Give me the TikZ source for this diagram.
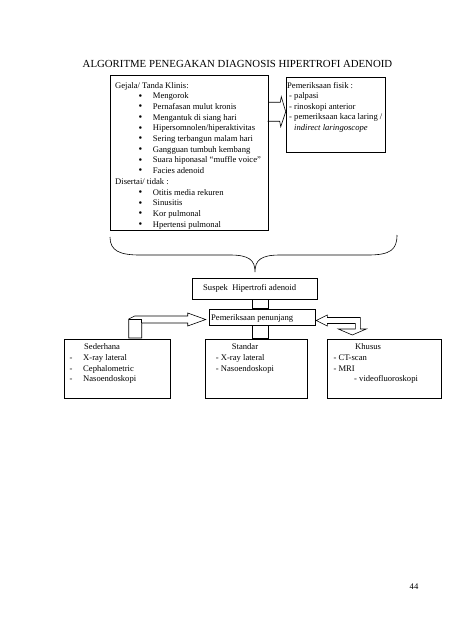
\documentclass[tikz,border=0pt]{standalone}
\usepackage{fontspec}
\setmainfont{Liberation Serif}
\usetikzlibrary{calc}
\tikzset{
	kotak/.style={draw, inner sep=0pt, line width=0.6pt},
	blok/.style={draw, line width=0.6pt, line join=miter},
	teks/.style={anchor=base west, inner sep=0pt, font=\fontsize{8.6}{10}\selectfont},
	titik/.style={anchor=base west, inner sep=0pt, font=\fontsize{10.5}{10}\selectfont},
}

\begin{document}
\begin{tikzpicture}[x=1pt,y=1pt,yscale=-1,xscale=1]
		\useasboundingbox (0,0) rectangle (474,632);
		% judul
		\node [anchor=base, inner sep=0pt, font=\fontsize{10.8}{12}\selectfont] (judul) at (237.5,67.8) {ALGORITME PENEGAKAN DIAGNOSIS HIPERTROFI ADENOID};

		% kotak-kotak
		\node [kotak, minimum width=158, minimum height=155] (klinis) at (189,152.5) {};
		\node [kotak, minimum width=99, minimum height=75] (fisik) at (335.5,114.5) {};
		\node [kotak, minimum width=125, minimum height=21] (suspek) at (254.5,288.5) {};
		\node [kotak, minimum width=106, minimum height=16] (penunjang) at (262,317) {};
		\node [kotak, minimum width=106, minimum height=59] (sederhana) at (117,368.5) {};
		\node [kotak, minimum width=102, minimum height=59] (standar) at (256,368.5) {};
		\node [kotak, minimum width=114, minimum height=59] (khusus) at (384,368.5) {};

		% gejala klinis
		\node [teks] (g0) at (115,88) {Gejala/ Tanda Klinis:};
		\node [titik] (b1) at (138.5,99) {\textbullet};
		\node [teks] (g1) at (152.7,98.7) {Mengorok};
		\node [titik] (b2) at (138.5,109.7) {\textbullet};
		\node [teks] (g2) at (152.7,109.4) {Pernafasan mulut kronis};
		\node [titik] (b3) at (138.5,120.4) {\textbullet};
		\node [teks] (g3) at (152.7,120.1) {Mengantuk di siang hari};
		\node [titik] (b4) at (138.5,131.1) {\textbullet};
		\node [teks] (g4) at (152.7,130.8) {Hipersomnolen/hiperaktivitas};
		\node [titik] (b5) at (138.5,141.8) {\textbullet};
		\node [teks] (g5) at (152.7,141.5) {Sering terbangun malam hari};
		\node [titik] (b6) at (138.5,152.5) {\textbullet};
		\node [teks] (g6) at (152.7,152.2) {Gangguan tumbuh kembang};
		\node [titik] (b7) at (138.5,163.2) {\textbullet};
		\node [teks] (g7) at (152.7,162.9) {Suara hiponasal ``muffle voice''};
		\node [titik] (b8) at (138.5,173.9) {\textbullet};
		\node [teks] (g8) at (152.7,173.6) {Facies adenoid};
		\node [teks] (d0) at (115,184.3) {Disertai/ tidak :};
		\node [titik] (c1) at (138.5,195.3) {\textbullet};
		\node [teks] (d1) at (152.7,195) {Otitis media rekuren};
		\node [titik] (c2) at (138.5,206) {\textbullet};
		\node [teks] (d2) at (152.7,205.7) {Sinusitis};
		\node [titik] (c3) at (138.5,216.7) {\textbullet};
		\node [teks] (d3) at (152.7,216.4) {Kor pulmonal};
		\node [titik] (c4) at (138.5,227.4) {\textbullet};
		\node [teks] (d4) at (152.7,227.1) {Hpertensi pulmonal};

		% pemeriksaan fisik
		\node [teks] (f0) at (287,88) {Pemeriksaan fisik :};
		\node [teks] (f1) at (289,98.6) {- palpasi};
		\node [teks] (f2) at (289,109.2) {- rinoskopi anterior};
		\node [teks] (f3) at (289,119.8) {- pemeriksaan kaca laring /};
		\node [teks] (f4) at (294,130.4) {\itshape indirect laringoscope};

		% panah ke pemeriksaan fisik
		\coordinate (a1) at ($(klinis.north east)+(0,37)$);
		\draw [blok] ($(a1)+(0,-9.5)$) -- ++(12,0) -- ++(1,-5.5) -- (a1 -| fisik.west) -- ++(-5,15) -- ++(-1,-5.5) -- ++(-12,0) ;

		% kurung kurawal
		\draw [line width=0.6pt] (110,237) .. controls (110,251) and (120,255) .. (140,255) -- (230,255) .. controls (249,255) and (255,260) .. (255,272) .. controls (255,260) and (261,255) .. (280,255) -- (368,255) .. controls (390,255) and (397,250) .. (397,235) ;

		% suspek dan penunjang
		\node [teks] (s0) at (203,290.5) {Suspek\ \ Hipertrofi adenoid};
		\node [teks] (p0) at (211,320) {Pemeriksaan penunjang};
		\draw [blok] ($(suspek.south)+(-2,0)$) rectangle ($(penunjang.north)+(6,0)$) ;
		\draw [blok] ($(penunjang.south)+(-9.5,0)$) rectangle ($(standar.north)+(12,0)$) ;

		% panah kiri
		\coordinate (b0) at ($(penunjang.west)+(-3,2.5)$);
		\draw [blok] (b0) -- ++(-18,-6.5) -- ++(0,3) -- ++(-53,0) -- ++(-6,3) -- ++(0,19) -- ++(13,0) -- ++(0,-15) -- ++(46,0) -- ++(0,3) -- cycle ;
		\draw [blok] ($(b0)+(-77,-0.5)$) -- ++(13,0) -- ++(0,4) ;

		% panah kanan
		\coordinate (k0) at ($(penunjang.east)+(1,3.5)$);
		\draw [blok] (k0) -- ++(11,-5.5) -- ++(0,2.5) -- ++(33,0) -- ++(0,11.5) -- ++(6,0) -- ++(-14,6) -- ++(-14,-6) -- ++(17,0) -- ++(0,-5.5) -- ++(-28,0) -- ++(0,2.5) -- cycle ;

		% sederhana
		\node [teks] (e0) at (84,349.7) {Sederhana};
		\node [teks] (e1s) at (69.5,360.4) {-};
		\node [teks] (e1) at (83,360.4) {X-ray lateral};
		\node [teks] (e2s) at (69.5,371.1) {-};
		\node [teks] (e2) at (83,371.1) {Cephalometric};
		\node [teks] (e3s) at (69.5,381.8) {-};
		\node [teks] (e3) at (83,381.8) {Nasoendoskopi};

		% standar
		\node [teks] (t0) at (231.7,349.7) {Standar};
		\node [teks] (t1) at (215.7,360.4) {- X-ray lateral};
		\node [teks] (t2) at (215.7,371.1) {- Nasoendoskopi};

		% khusus
		\node [teks] (h0) at (355,349.7) {Khusus};
		\node [teks] (h1) at (333.3,360.4) {- CT-scan};
		\node [teks] (h2) at (333.3,371.1) {- MRI};
		\node [teks] (h3) at (354,381.8) {- videofluoroskopi};

		% halaman
		\node [teks, anchor=base] (hal) at (414,589) {44};
	\end{tikzpicture}
\end{document}
